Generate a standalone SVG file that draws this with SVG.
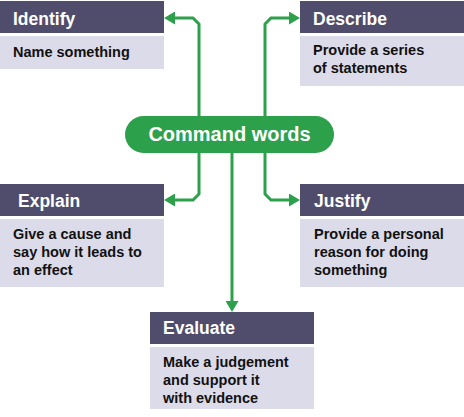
<svg xmlns="http://www.w3.org/2000/svg" width="464" height="417" viewBox="0 0 464 417">
<defs>
<style>
.hd{fill:#4f4d6b}
.bd{fill:#dcdbe9}
.ht{font-family:"Liberation Sans",Arial,sans-serif;font-weight:bold;font-size:17.5px;fill:#ffffff}
.bt{font-family:"Liberation Sans",Arial,sans-serif;font-weight:bold;font-size:14.5px;fill:#111111}
.ct{font-family:"Liberation Sans",Arial,sans-serif;font-weight:bold;font-size:20px;fill:#ffffff}
.cn{fill:none;stroke:#2ca04b;stroke-width:3}
</style>
<marker id="ah" markerUnits="userSpaceOnUse" markerWidth="12" markerHeight="13" refX="0" refY="6.5" orient="auto">
<path d="M0,0 L11,6.5 L0,13 z" fill="#2ca04b"/>
</marker>
</defs>
<rect width="464" height="417" fill="#ffffff"/>
<g id="connectors">
<path class="cn" d="M199,117 V24 L193,18 H175" marker-end="url(#ah)"/>
<path class="cn" d="M265,117 V24 L271,18 H289" marker-end="url(#ah)"/>
<path class="cn" d="M199,152 V194 L193,200 H175" marker-end="url(#ah)"/>
<path class="cn" d="M265,152 V194 L271,200 H289" marker-end="url(#ah)"/>
<path class="cn" d="M232,152 V301" marker-end="url(#ah)"/>
</g>
<g id="command-words">
<rect x="125" y="116" width="209" height="37" rx="18.5" fill="#2ca04b"/>
<text class="ct" x="229.5" y="141" text-anchor="middle">Command words</text>
</g>
<g id="identify">
<rect class="hd" x="0" y="1" width="164" height="32"/>
<rect class="bd" x="0" y="36" width="164" height="33"/>
<text class="ht" x="13" y="25">Identify</text>
<text class="bt" x="13" y="57">Name something</text>
</g>
<g id="describe">
<rect class="hd" x="300" y="1" width="164" height="32"/>
<rect class="bd" x="300" y="36" width="164" height="50"/>
<text class="ht" x="313" y="25">Describe</text>
<text class="bt" x="313" y="55">Provide a series</text>
<text class="bt" x="313" y="73">of statements</text>
</g>
<g id="explain">
<rect class="hd" x="0" y="184" width="164" height="32"/>
<rect class="bd" x="0" y="219" width="164" height="68"/>
<text class="ht" x="18" y="207">Explain</text>
<text class="bt" x="13" y="239">Give a cause and</text>
<text class="bt" x="13" y="257">say how it leads to</text>
<text class="bt" x="13" y="275">an effect</text>
</g>
<g id="justify">
<rect class="hd" x="300" y="184" width="164" height="32"/>
<rect class="bd" x="300" y="219" width="164" height="68"/>
<text class="ht" x="314" y="207">Justify</text>
<text class="bt" x="314" y="239">Provide a personal</text>
<text class="bt" x="314" y="257">reason for doing</text>
<text class="bt" x="314" y="275">something</text>
</g>
<g id="evaluate">
<rect class="hd" x="150" y="312" width="164" height="32"/>
<rect class="bd" x="150" y="347" width="164" height="62"/>
<text class="ht" x="163" y="334">Evaluate</text>
<text class="bt" x="163" y="367">Make a judgement</text>
<text class="bt" x="163" y="385">and support it</text>
<text class="bt" x="163" y="403">with evidence</text>
</g>
</svg>
